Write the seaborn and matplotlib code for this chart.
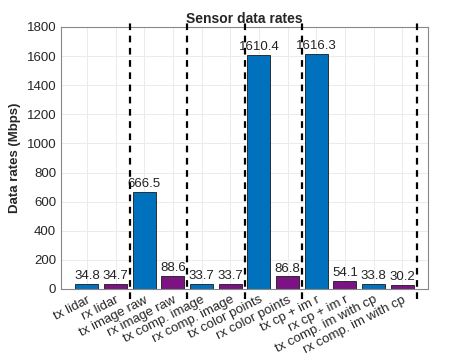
import matplotlib
matplotlib.use("Agg")
import matplotlib.pyplot as plt
import matplotlib.transforms as mtransforms
import seaborn as sns
import pandas as pd

# Data
labels = ["tx lidar", "rx lidar", "tx image raw", "rx image raw", "tx comp. image",
          "rx comp. image", "tx color points", "rx color points", "tx cp + im r",
          "rx cp + im r", "tx comp. im with cp", "rx comp. im with cp"]
rates = [34.8, 34.7, 666.5, 88.6, 33.7, 33.7, 1610.4, 86.8, 1616.3, 54.1, 33.8, 30.2]
direction = ["tx", "rx"] * 6
separators = [1.5, 3.5, 5.5, 7.5, 11.5]

df = pd.DataFrame({"Label": labels, "Rate": rates, "Dir": direction})

sns.set_style("white")
plt.rcParams["font.family"] = ["Liberation Sans", "DejaVu Sans"]

fig = plt.figure(figsize=(4.74, 3.55), dpi=100)
ax = fig.add_axes([0.129, 0.186, 0.774, 0.738])

sns.barplot(data=df, x="Label", y="Rate", hue="Dir",
            palette={"tx": "#0072BD", "rx": "#7B1482"}, saturation=1,
            dodge=False, width=0.8, edgecolor="#1a1a1a", linewidth=0.6,
            legend=False, ax=ax)

for i, v in enumerate(rates):
    ax.text(i, v + 12, f"{v:.1f}", ha="center", va="bottom", fontsize=9.5, color="#222222")

for s in separators:
    ax.plot([s, s], [-70, 1830], color="black", linestyle=(0, (3, 2.5)),
            linewidth=1.6, clip_on=False, zorder=5)

ax.set_xlim(-0.9, 11.9)
ax.set_ylim(0, 1800)
ax.set_yticks(range(0, 1801, 200))
ax.set_xticks(range(len(labels)))
ax.set_xticklabels(labels, rotation=27, ha="right", va="top",
                   rotation_mode="anchor", fontsize=9.5)
shift = mtransforms.ScaledTranslation(5 / 100, -3 / 100, fig.dpi_scale_trans)
for lab in ax.get_xticklabels():
    lab.set_transform(lab.get_transform() + shift)
ax.tick_params(axis="y", labelsize=9.5)
ax.tick_params(direction="in", length=3, color="#555555", labelcolor="#262626")
ax.grid(True, color="#ebebeb", linewidth=0.7)
ax.set_axisbelow(True)
for sp in ax.spines.values():
    sp.set_color("#888888")
    sp.set_linewidth(0.8)

ax.set_xlabel("")
ax.set_ylabel("Data rates (Mbps)", fontsize=9.5, fontweight="bold")
ax.set_title("Sensor data rates", fontsize=10, fontweight="bold", pad=3)

fig.savefig("out.png", dpi=100)
